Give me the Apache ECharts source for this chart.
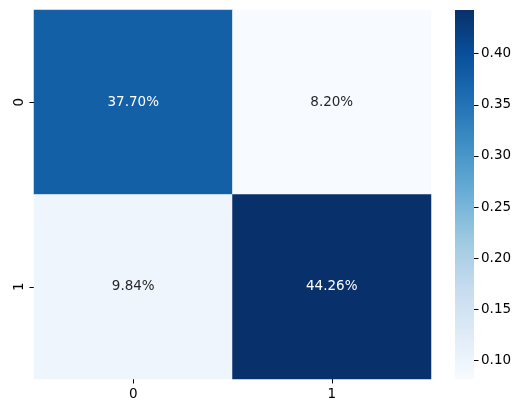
<!DOCTYPE html>
<html>
<head>
<meta charset="utf-8">
<script src="https://cdn.jsdelivr.net/npm/echarts@6/dist/echarts.min.js"></script>
<style>html,body{margin:0;padding:0;background:#fff}#c{width:524px;height:413px}</style>
</head>
<body>
<div id="c"></div>
<script>
const xCategories = ['0', '1'];
const yCategories = ['0', '1'];
// [xIndex, yIndex, value]
const cellValues = [
  [0, 0, 0.3770],
  [1, 0, 0.0820],
  [0, 1, 0.0984],
  [1, 1, 0.4426]
];
const colorMin = 0.0820;
const colorMax = 0.4426;
const colorbarTicks = [0.10, 0.15, 0.20, 0.25, 0.30, 0.35, 0.40];
const bluesStops = ['#f7fbff','#deebf7','#c6dbef','#9ecae1','#6baed6','#4292c6','#2171b5','#08519c','#08306b'];

const FONT = 'DejaVu Sans';
const chart = echarts.init(document.getElementById('c'), null, {renderer: 'canvas'});

const grad = bluesStops.map((c, i) => ({offset: 1 - i / (bluesStops.length - 1), color: c}));
const hiddenLine = {show: true, onZero: false, lineStyle: {color: 'rgba(0,0,0,0)'}};
const tickStyle = {show: true, length: 4.5, lineStyle: {color: '#000', width: 1}};

chart.setOption({
  animation: false,
  backgroundColor: '#fff',
  grid: [
    {left: 34, top: 10, right: 93, bottom: 34, outerBoundsMode: 'none'},
    {left: 455, top: 10, width: 19, height: 369, outerBoundsMode: 'none'}
  ],
  xAxis: [
    {
      type: 'category', data: xCategories, gridIndex: 0,
      axisLine: hiddenLine,
      axisTick: Object.assign({alignWithLabel: true}, tickStyle),
      axisLabel: {color: '#000', fontFamily: FONT, fontSize: 13.5, margin: 8.5},
      splitLine: {show: false}
    },
    {
      type: 'category', gridIndex: 1, data: ['c'], show: false
    }
  ],
  yAxis: [
    {
      type: 'category', data: yCategories, gridIndex: 0, inverse: true,
      axisLine: hiddenLine,
      axisTick: Object.assign({alignWithLabel: true}, tickStyle),
      axisLabel: {color: '#000', fontFamily: FONT, fontSize: 13.5, rotate: 90, margin: 7.5},
      splitLine: {show: false}
    },
    {
      type: 'value', gridIndex: 1, position: 'right', min: colorMin, max: colorMax, z: 100,
      axisLine: hiddenLine,
      axisTick: Object.assign({customValues: colorbarTicks}, tickStyle),
      axisLabel: {color: '#000', fontFamily: FONT, fontSize: 13.5, margin: 7,
        customValues: colorbarTicks, formatter: v => v.toFixed(2)},
      splitLine: {show: false}
    }
  ],
  visualMap: {
    show: false, min: colorMin, max: colorMax, dimension: 2, seriesIndex: 0,
    inRange: {color: bluesStops}
  },
  graphic: [{
    type: 'rect', left: 455, top: 10, z: -10, silent: true,
    shape: {width: 19, height: 369},
    style: {fill: new echarts.graphic.LinearGradient(0, 0, 0, 1, grad)}
  }],
  series: [
    {
      type: 'heatmap', xAxisIndex: 0, yAxisIndex: 0,
      data: cellValues.map(d => ({
        value: d,
        label: {color: (d[2] - colorMin) / (colorMax - colorMin) > 0.5 ? '#ffffff' : '#262626'}
      })),
      itemStyle: {borderWidth: 0},
      label: {
        show: true, fontFamily: FONT, fontSize: 13.5,
        formatter: p => (p.value[2] * 100).toFixed(2) + '%'
      },
      emphasis: {disabled: true}
    },
    {
      type: 'scatter', xAxisIndex: 1, yAxisIndex: 1, data: [], silent: true
    }
  ]
});
</script>
</body>
</html>
